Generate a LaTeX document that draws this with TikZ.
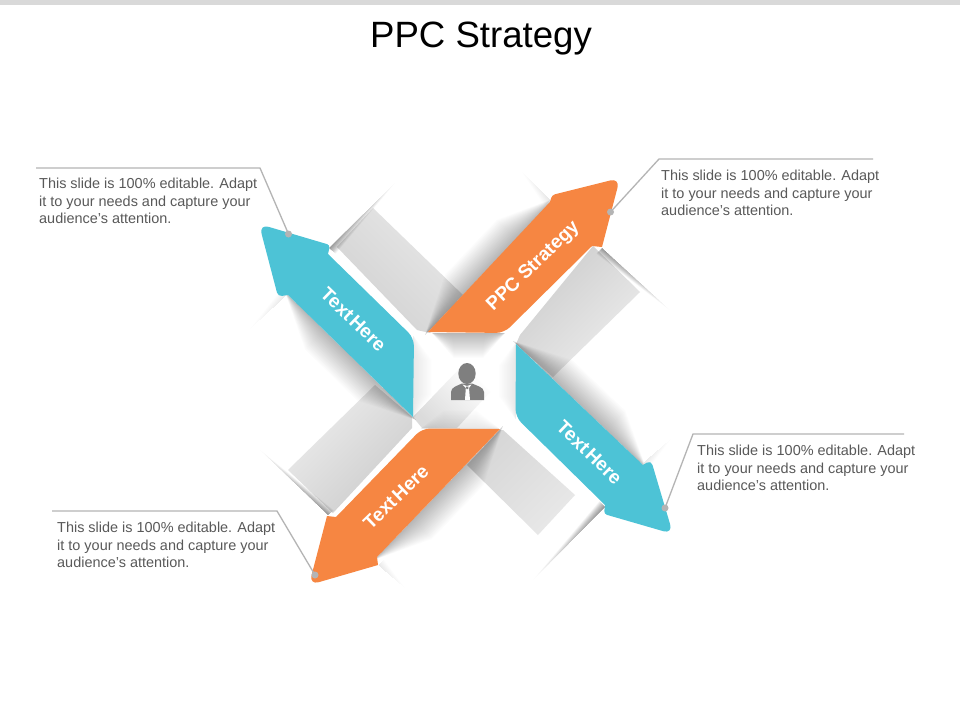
\documentclass[tikz,border=0pt]{standalone}
\usepackage{fontspec}
\setmainfont{Liberation Sans}
\usetikzlibrary{calc}
\definecolor{ppcorange}{HTML}{F68642}
\definecolor{ppcblue}{HTML}{4DC3D6}
\definecolor{leadgray}{HTML}{B4B4B4}
\definecolor{bodygray}{HTML}{595959}
\definecolor{icongray}{HTML}{7F7F7F}
\tikzset{
  bodytext/.style={anchor=west,inner sep=0pt,align=left,text=bodygray,font=\fontsize{14.45}{17.8}\selectfont},
  arrowlabel/.style={text=white,inner sep=0pt,font=\fontsize{19}{20}\selectfont\bfseries},
  leader/.style={draw=leadgray,line width=1.3pt},
  leaddot/.style={circle,fill=leadgray,inner sep=0pt,minimum size=7pt}
}
\newcommand{\dsp}{\ \kern1.2pt}
\newcommand{\slidetext}{This slide is 100\% editable.\dsp Adapt\\it to your needs and capture your\\audience's attention.}
\newcommand{\lblhere}{Text\kern-1pt\ \kern-2pt Here}
% rounded vertex: previous point, vertex, next point, radius
\newcommand{\rc}[4]{-- ($#2!#4pt!#1$) .. controls ($#2!0.45*#4pt!#1$) and ($#2!0.45*#4pt!#3$) .. ($#2!#4pt!#3$)}
% soft shadow along edge a-b, off = offset vector; fans out and fades outward
\newcommand{\softpoly}[4]{%
  \foreach \t in {0.04,0.08,...,1.0}{
    \fill[black,opacity=#4/25]
      #1 -- #2
      -- ($($#2!0.3!#1$)+\t*#3$) -- ($($#1!0.3!#2$)+\t*#3$) -- cycle;
  }}
% soft sliver: darkest at a, fading to b and to c
\newcommand{\softwedge}[4]{%
  \foreach \t in {0.04,0.08,...,1.0}{
    \fill[black,opacity=#4/25] #1 -- ($#1!\t!#2$) -- ($#1!\t!#3$) -- cycle;
  }}
\begin{document}
\begin{tikzpicture}[x=1pt,y=-1pt]
\useasboundingbox (0,0) rectangle (960,720);
\fill[white] (0,0) rectangle (960,720);
\fill[black!15] (0,0) rectangle (960,5);
\node (title) at (481,39) {\fontsize{36.6}{40}\selectfont PPC Strategy};

% grey bands
\shade[top color=black!9,bottom color=black!18,shading angle=-45]
  (373,208) -- (464,296) -- (430,333) -- (417,330) -- (337,247) -- cycle;
\shade[top color=black!20,bottom color=black!7,shading angle=45]
  (520,335) -- (593,246) -- (640,292) -- (553,377) -- (516,344) -- cycle;
\shade[top color=black!20,bottom color=black!7,shading angle=-135]
  (288,470) -- (375,385) -- (412,417) -- (412,428) -- (333,513) -- cycle;
\shade[top color=black!16,bottom color=black!9,shading angle=45]
  (503,430) -- (575,495) -- (538,535) -- (467,465) -- (500,430) -- cycle;
% centre strip
\shade[top color=white,bottom color=black!14,shading angle=-45]
  (413,417) -- (463,365) -- (490,392) -- (457,428) -- (422,428) -- cycle;

% long slivers by the arrow heads
\softwedge{(329,248)}{(398,180)}{(336,254)}{0.5}
\softwedge{(602,248)}{(673,313)}{(596,254)}{0.5}
\softwedge{(328,515)}{(257,447)}{(334,510)}{0.5}
\softwedge{(605,507)}{(530,583)}{(599,501)}{0.5}
% faint slivers on the far barbs
\softwedge{(287,295)}{(247,332)}{(281,289)}{0.12}
\softwedge{(550,200)}{(520,170)}{(544,206)}{0.12}
\softwedge{(378,565)}{(407,590)}{(384,559)}{0.12}
\softwedge{(643,463)}{(673,437)}{(649,469)}{0.12}

% soft shadows along the arrow bodies
\softpoly{(285,292)}{(416,420)}{(-20,20)}{0.26}
\softpoly{(555,198)}{(425,335)}{(-20,-20)}{0.30}
\softpoly{(503,426)}{(374,560)}{(20,20)}{0.28}
\softpoly{(513,341)}{(646,468)}{(20,-20)}{0.28}
% shadows in the centre
\softpoly{(432,333)}{(505,333)}{(0,26)}{0.28}
\softpoly{(413,335)}{(413,420)}{(20,0)}{0.14}
\softpoly{(516,342)}{(516,420)}{(-18,0)}{0.10}
\softpoly{(420,429)}{(500,429)}{(0,-20)}{0.10}

% arrows
\fill[ppcblue] (413,417) -- (288,295) \rc{(288,295)}{(278,296.5)}{(259,224)}{4}
  \rc{(278,296.5)}{(259,224)}{(330,245)}{10}
  \rc{(259,224)}{(330,245)}{(328,254)}{3}
  -- (328,254) \rc{(328,254)}{(414,338)}{(413,417)}{8} -- cycle;
\fill[ppcorange] (428,332) -- (550,202) \rc{(550,202)}{(552,195)}{(620,178)}{3}
  \rc{(552,195)}{(620,178)}{(602,247)}{10}
  -- (602,247) -- (592,246) \rc{(592,246)}{(504,333)}{(428,332)}{8} -- cycle;
\fill[ppcorange] (500,429) -- (377,557) -- (378,565)
  \rc{(378,565)}{(309,585)}{(327,516)}{10}
  -- (327,516) -- (336,517) \rc{(336,517)}{(422,428.5)}{(500,429)}{8} -- cycle;
\fill[ppcblue] (516,344) -- (643,465) \rc{(643,465)}{(651,460)}{(673,534)}{5}
  \rc{(651,460)}{(673,534)}{(604,514)}{10}
  \rc{(673,534)}{(604,514)}{(605,505)}{3}
  -- (605,505) \rc{(605,505)}{(515.5,417)}{(516,344)}{8} -- cycle;

% arrow labels
\node[arrowlabel,rotate=44] (lblTR) at (533.5,266.5) {PPC Strategy};
\node[arrowlabel,rotate=-44] (lblTL) at (353.5,319.5) {\lblhere};
\node[arrowlabel,rotate=44] (lblBL) at (396,497) {\lblhere};
\node[arrowlabel,rotate=-44] (lblBR) at (589.5,452.5) {\lblhere};

% person icon
\fill[icongray] (467,373.5) ellipse (8.7 and 10.5);
\fill[icongray] (451,400) -- (451,392) .. controls (451,387) and (458,385.5) .. (462,383.5)
  -- (472,383.5) .. controls (476,385.5) and (484,387) .. (484,392) -- (484,400) -- cycle;
\fill[white] (465,400) -- (465.8,388) -- (462.5,384.5) -- (467,386) -- (471.5,384.5) -- (469,388) -- (470,400) -- cycle;
\fill[icongray] (466,386.5) -- (468.5,386.5) -- (468.2,389) -- (466.4,389) -- cycle;

% body texts
\node[bodytext] (txtTL) at (39,201) {\slidetext};
\node[bodytext] (txtTR) at (661,193) {\slidetext};
\node[bodytext] (txtBL) at (57,545) {\slidetext};
\node[bodytext] (txtBR) at (697,468) {\slidetext};

% leaders
\node[leaddot] (dotTL) at (288.5,234) {};
\node[leaddot] (dotTR) at (610.5,212) {};
\node[leaddot] (dotBL) at (315,575) {};
\node[leaddot] (dotBR) at (665,508) {};
\coordinate (startTL) at (36,168); \coordinate (bendTL) at (260,168);
\coordinate (startTR) at (873,159); \coordinate (bendTR) at (659,159);
\coordinate (startBL) at (52,511); \coordinate (bendBL) at (277,511);
\coordinate (startBR) at (904,434); \coordinate (bendBR) at (693,434);
\draw[leader] (startTL) -- (bendTL) -- (dotTL.center);
\draw[leader] (startTR) -- (bendTR) -- (dotTR.center);
\draw[leader] (startBL) -- (bendBL) -- (dotBL.center);
\draw[leader] (startBR) -- (bendBR) -- (dotBR.center);
\end{tikzpicture}
\end{document}
